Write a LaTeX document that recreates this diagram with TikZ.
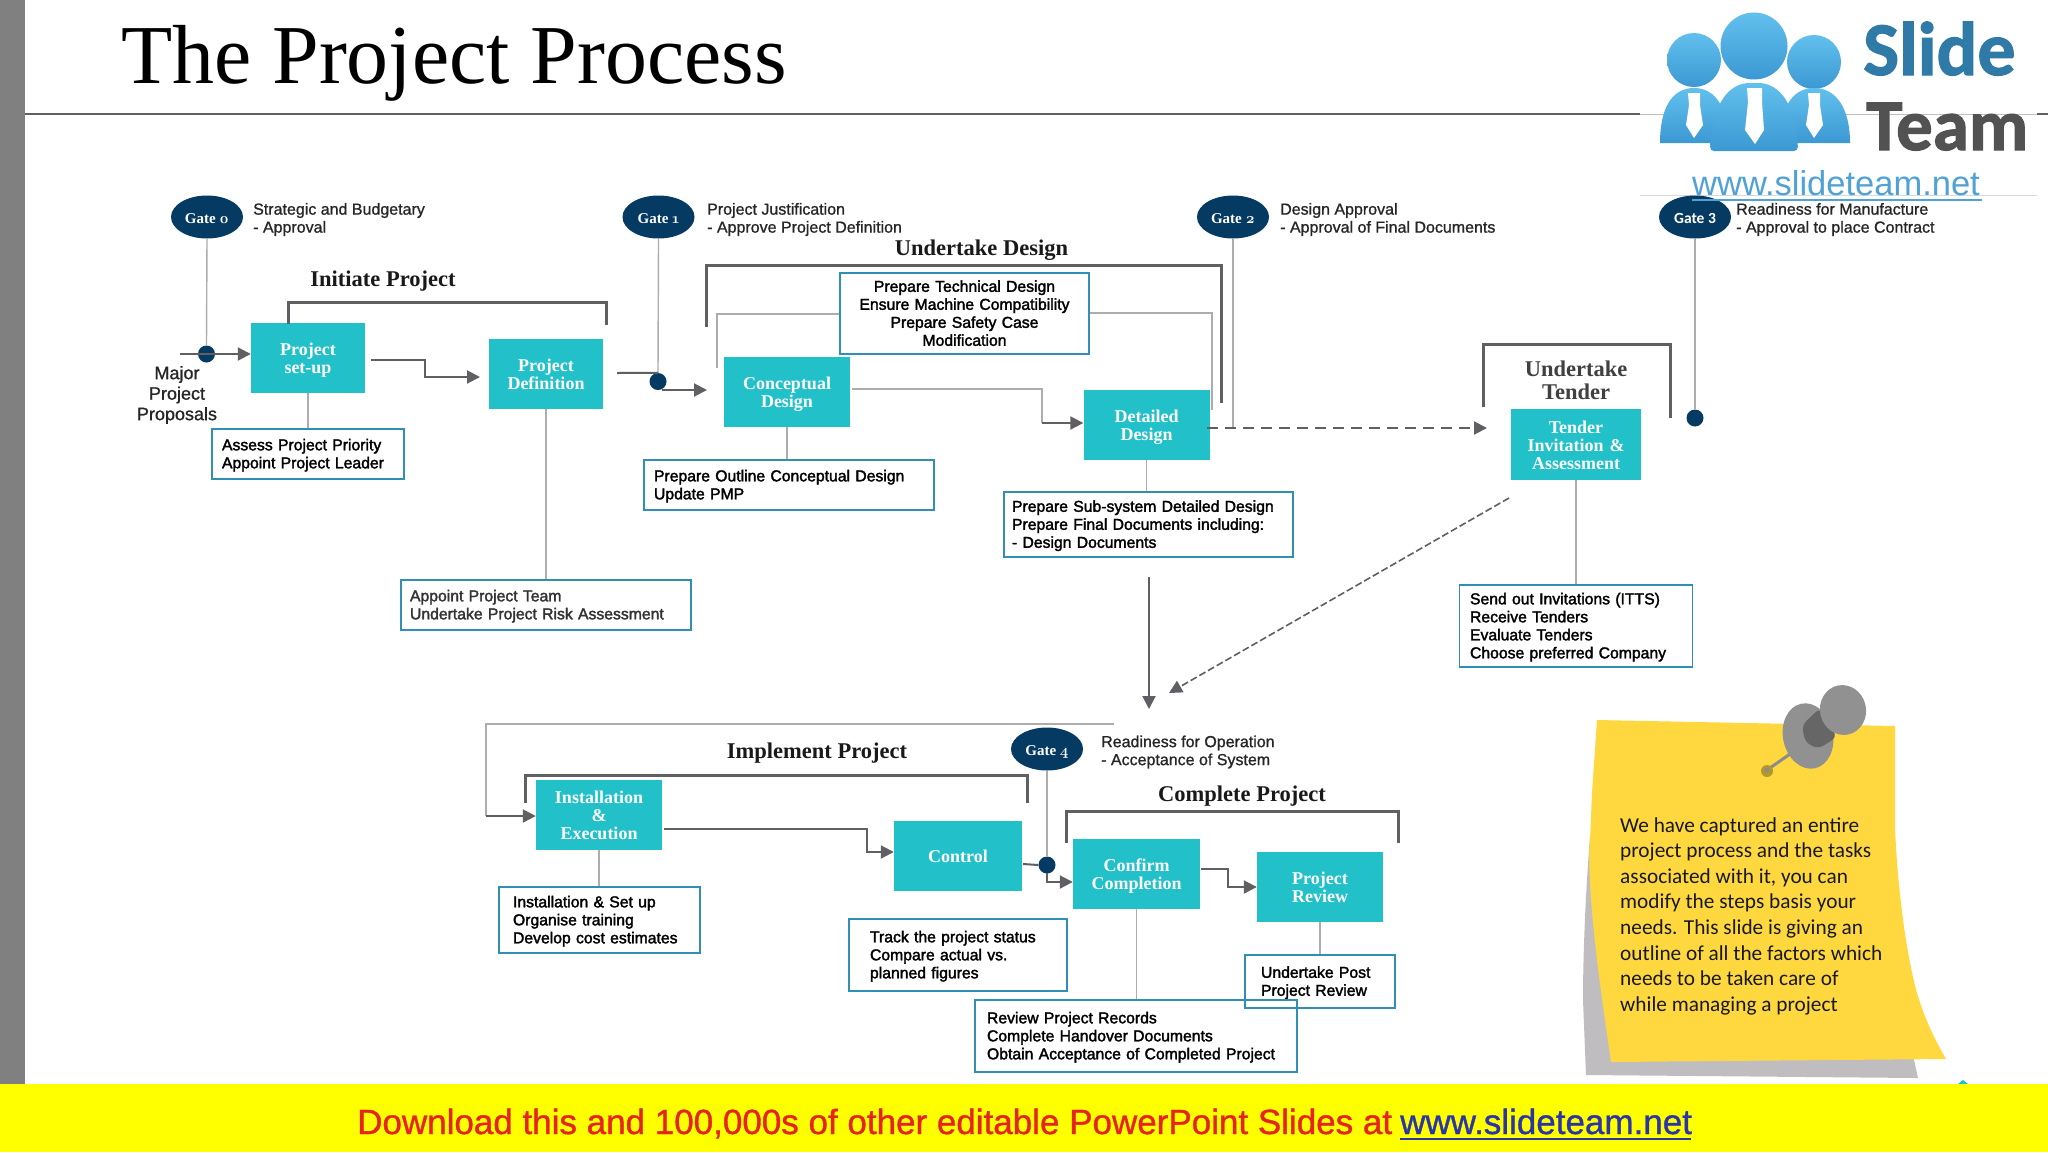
\documentclass[tikz,border=0pt]{standalone}
\usepackage{fontspec}
\usetikzlibrary{arrows.meta,shapes.geometric,calc}
\setmainfont{Liberation Serif}
\newfontfamily\sansf{Liberation Sans}[FakeBold=1.0]
\newfontfamily\taskf{Liberation Sans}[FakeBold=2.0]
\newfontfamily\noteF{Carlito}
\newfontfamily\logof{Carlito}[BoldFeatures={FakeBold=1.5}]
\newfontfamily\oldnum{Latin Modern Roman}[Numbers=OldStyle]
\definecolor{teal}{HTML}{22C1C9}
\definecolor{navy}{HTML}{053A62}
\definecolor{wire}{HTML}{5F5F64}
\definecolor{thin}{HTML}{ADADB0}
\definecolor{edge}{HTML}{2F8FB5}
\definecolor{note}{HTML}{FFD840}
\definecolor{noteshadow}{HTML}{C0BDC1}
\definecolor{logoA}{HTML}{62C0EE}
\definecolor{logoB}{HTML}{3C98D2}
\definecolor{band}{HTML}{FFFF00}
\definecolor{footred}{HTML}{E5231F}
\definecolor{footblue}{HTML}{2A35A8}
\tikzset{
  proc/.style={fill=teal,text=white,minimum width=126pt,minimum height=70pt,inner sep=0pt,text width=#1,align=center,
    execute at begin node={\rule{0pt}{17pt}},execute at end node={\rule[-4pt]{0pt}{4pt}},
    font=\fontsize{18}{18}\selectfont\bfseries},
  proc/.default=112pt,
  gate/.style={ellipse,fill=navy,text=white,minimum width=72pt,minimum height=43pt,inner sep=0pt,
    text height=13pt,text depth=0pt,font=\fontsize{15}{18}\selectfont\bfseries},
  dot/.style={circle,fill=navy,minimum size=17pt,inner sep=0pt},
  task/.style={draw=edge,line width=1.7pt,align=left,inner ysep=0pt,text=black,
    execute at begin node={\rule{0pt}{14.6pt}},execute at end node={\rule[-4pt]{0pt}{4pt}},
    font=\fontsize{15.75}{18}\selectfont\taskf},
  capt/.style={anchor=west,align=left,inner sep=0pt,text=black!85,font=\fontsize{16}{18}\selectfont\sansf},
  phase/.style={inner sep=0pt,align=center,text=black!90,font=\fontsize{22.5}{23}\selectfont\bfseries},
  flow/.style={draw=wire,line width=2pt,-{Triangle[length=13pt,width=13pt]}},
  plain/.style={draw=wire,line width=2pt},
  leader/.style={draw=thin,line width=1.4pt},
  bracket/.style={draw=wire,line width=3pt}
}
\begin{document}
\begin{tikzpicture}[x=1pt,y=-1pt]
\useasboundingbox (0,0) rectangle (2048,1152);
\fill[white] (0,0) rectangle (2048,1152);
% slide frame
\fill[black!50] (0,0) rectangle (25,1084);
\draw[wire,line width=1.7pt] (25,114) -- (1640,114);
\draw[wire,line width=1.7pt] (2037,114) -- (2048,114);
\node[anchor=base west,inner sep=0pt,font=\fontsize{83.8}{84}\selectfont] (title) at (121,83) {The Project Process};

% logo
\fill[white] (1640,0) rectangle (2037,195);
\draw[black!25,line width=0.8pt] (1640,114) -- (2037,114);
\draw[black!15,line width=1pt] (1640,195) -- (2037,195);
\shade[top color=logoA,bottom color=logoB] (1694,60) circle (27);
\shade[top color=logoA,bottom color=logoB] (1814,62) circle (27);
\shade[top color=logoA,bottom color=logoB] (1660,143) .. controls (1660,108) and (1672,88) .. (1694,88) .. controls (1716,88) and (1728,108) .. (1728,143) -- cycle;
\shade[top color=logoA,bottom color=logoB] (1780,143) .. controls (1780,108) and (1792,88) .. (1814,88) .. controls (1836,88) and (1850,108) .. (1850,143) -- cycle;
\shade[top color=logoA,bottom color=logoB] (1754,46) circle (33.5);
\shade[top color=logoA,bottom color=logoB,rounded corners=4pt] (1710,151) .. controls (1712,105) and (1728,83) .. (1754,83) .. controls (1780,83) and (1796,105) .. (1798,151) -- cycle;
\fill[white] (1688,93) -- (1700,93) -- (1700,105) -- (1703,125) -- (1694,138) -- (1686,125) -- (1689,105) -- cycle;
\fill[white] (1747,88) -- (1762,88) -- (1762,102) -- (1764,130) -- (1755,144) -- (1745,130) -- (1748,102) -- cycle;
\fill[white] (1808,93) -- (1820,93) -- (1820,105) -- (1823,125) -- (1814,138) -- (1806,125) -- (1809,105) -- cycle;
\node[anchor=base west,inner sep=0pt,text=logoB!80!black,font=\fontsize{76}{76}\selectfont\logof\bfseries] (logoslide) at (1863,75) {Slide};
\node[anchor=base west,inner sep=0pt,text=black!68,font=\fontsize{73}{73}\selectfont\logof\bfseries] (logoteam) at (1866,150) {Team};
\node[anchor=base west,inner sep=0pt,text=logoB!90,font=\fontsize{34.5}{35}\selectfont\fontspec{Liberation Sans}] (logourl) at (1692,195) {www.slideteam.net};

% gates
\node[gate] (gate0) at (207,217) {Gate {\oldnum 0}};
\node[gate] (gate1) at (658.5,217) {Gate {\oldnum 1}};
\node[gate] (gate2) at (1233,217) {Gate {\oldnum 2}};
\node[gate,font=\fontsize{15.5}{18}\selectfont\noteF\bfseries] (gate3) at (1695,217) {Gate 3};
\node[gate] (gate4) at (1047,749) {Gate {\oldnum 4}};
\draw[logoB!90,line width=2pt] (1692,200) -- (1982,200);
\node[capt] (cap0) at (253,219.5) {Strategic and Budgetary\\- Approval};
\node[capt] (cap1) at (707,219.5) {Project Justification\\- Approve Project Definition};
\node[capt] (cap2) at (1280,219.5) {Design Approval\\- Approval of Final Documents};
\node[capt] (cap3) at (1736,219.5) {Readiness for Manufacture\\- Approval to place Contract};
\node[capt] (cap4) at (1101,752) {Readiness for Operation\\- Acceptance of System};

% dots
\node[dot] (dot0) at (206.5,354) {};
\node[dot] (dot1) at (658,381.5) {};
\node[dot] (dot3) at (1695,418) {};
\node[dot] (dot4) at (1047,865) {};

% process boxes
\node[proc,minimum width=114pt] (setup) at (308,358) {Project\\set-up};
\node[proc,minimum width=114pt] (definition) at (546,374) {Project\\Definition};
\node[proc] (concept) at (787,392) {Conceptual\\Design};
\node[proc] (detail) at (1146.5,425) {Detailed\\Design};
\node[proc=126pt,minimum width=130pt,minimum height=71pt] (tender) at (1576,444.5) {Tender\\Invitation \&\\Assessment};
\node[proc] (install) at (599,815) {Installation\\\&\\Execution};
\node[proc,minimum width=128pt] (control) at (958,856) {Control};
\node[proc,minimum width=127pt] (confirm) at (1136.5,874) {Confirm\\Completion};
\node[proc,minimum width=126pt] (review) at (1320,887) {Project\\Review};

% task boxes
\node[task,fill=white,text width=172pt,inner xsep=10pt,minimum height=50pt] (assess) at (308,454) {Assess Project Priority\\Appoint Project Leader};
\node[task,fill=white,text width=272pt,inner xsep=9pt,minimum height=50pt,text=black!80] (team) at (546,605) {Appoint Project Team\\Undertake Project Risk Assessment};
\node[task,fill=white,text width=249pt,minimum height=81pt,inner xsep=0pt,align=center] (techn) at (964.5,313.5) {Prepare Technical Design\\Ensure Machine Compatibility\\Prepare Safety Case\\Modification};
\node[task,fill=white,text width=270pt,inner xsep=10pt,minimum height=50pt] (outline) at (789,485) {Prepare Outline Conceptual Design\\Update PMP};
\node[task,fill=white,text width=273pt,inner xsep=8pt,minimum height=65pt] (subsys) at (1148.5,524.5) {Prepare Sub-system Detailed Design\\Prepare Final Documents including:\\- Design Documents};
\node[task,fill=white,text width=212pt,inner xsep=10.5pt,minimum height=82pt] (itts) at (1576,626) {Send out Invitations (ITTS)\\Receive Tenders\\Evaluate Tenders\\Choose preferred Company};
\node[task,fill=white,text width=173pt,inner xsep=14pt,minimum height=66pt] (setupt) at (599.5,920) {Installation \& Set up\\Organise training\\Develop cost estimates};
\node[task,fill=white,text width=176pt,inner xsep=21pt,minimum height=72pt] (track) at (958,955) {Track the project status\\Compare actual vs.\\planned figures};
\node[task,text width=118pt,inner xsep=16pt,minimum height=53pt] (post) at (1320,981.5) {Undertake Post\\Project Review};
\node[task,text width=298pt,inner xsep=12pt,minimum height=72pt] (records) at (1136,1036) {Review Project Records\\Complete Handover Documents\\Obtain Acceptance of Completed Project};

% side labels
\node[inner sep=0pt,align=center,text=black!85,font=\fontsize{18}{20.5}\selectfont\sansf] (major) at (177,395) {Major\\Project\\Proposals};
\node[phase] (initiate) at (383,281) {Initiate Project};
\node[phase] (undesign) at (981.5,250) {Undertake Design};
\node[phase,text=black!75] (untender) at (1576,380) {Undertake\\Tender};
\node[phase] (implement) at (817,753.5) {Implement Project};
\node[phase] (complete) at (1242,796.5) {Complete Project};

% phase brackets
\draw[bracket] (288,324) -- (288,302) -- (606,302) -- (606,325);
\draw[bracket] (706,327) -- (706,265) -- (1221,265) -- (1221,403);
\draw[bracket] (1483,407) -- (1483,344) -- (1670,344) -- (1670,418);
\draw[bracket] (525,803) -- (525,775) -- (1027,775) -- (1027,803);
\draw[bracket] (1066.5,843) -- (1066.5,811) -- (1398,811) -- (1398,843);

% gate leaders
\coordinate (e1) at (1207,428);
\coordinate (e2) at (1487,428);
\draw[leader] (gate0.south) -- (dot0.north);
\draw[leader] (gate1.south) -- (dot1.north);
\draw[leader] (gate2.south) -- (gate2.south |- e1);
\draw[leader] (gate3.south) -- (dot3.north);
\draw[leader] (gate4.south) -- (dot4.north);

% leaders from boxes to tasks
\draw[leader] (setup.south) -- (setup.south |- assess.north);
\draw[leader] (definition.south) -- (definition.south |- team.north);
\draw[leader] (concept.south) -- (concept.south |- outline.north);
\draw[leader] (detail.south) -- (detail.south |- subsys.north);
\draw[leader] (tender.south) -- (tender.south |- itts.north);
\draw[leader] (install.south) -- (install.south |- setupt.north);
\draw[leader] (confirm.south) -- (confirm.south |- records.north);
\draw[leader] (review.south) -- (review.south |- post.north);
\coordinate (techL) at (717,368);
\coordinate (techR) at (1212,410);
\draw[leader] (techn.west |- 0,314) -- (717,314) -- (techL);
\draw[leader] (techn.east |- 0,313) -- (1212,313) -- (techR);

% connectors
\coordinate (majorS) at (180,354);
\draw[flow] (majorS) -- (setup.west |- majorS);
\coordinate (s1) at (371,360);
\coordinate (d1) at (480,377);
\draw[flow] (s1) -- (425,360) -- (425,377) -- (d1);
\coordinate (d2) at (617,373);
\draw[plain] (d2) -- (dot1.north);
\coordinate (d3) at (662,390);
\coordinate (c1) at (707,390);
\draw[flow] (d3) -- (c1);
\coordinate (c2) at (852,389);
\coordinate (c3) at (1042,423);
\draw[leader] (c2) -- (c3 |- c2) -- (c3);
\draw[flow] (c3) -- (detail.west |- c3);
\draw[flow,dash pattern=on 11pt off 7pt] (e1) -- (e2);
\coordinate (t1) at (1509,498);
\coordinate (t2) at (1169,693);
\draw[flow,line width=1.6pt,dash pattern=on 7pt off 3pt] (t1) -- (t2);
\coordinate (v1) at (1149,577);
\coordinate (v2) at (1149,709);
\draw[flow] (v1) -- (v2);
\coordinate (i1) at (1114,724);
\coordinate (i2) at (486,724);
\coordinate (i3) at (486,816);
\draw[leader] (i1) -- (i2) -- (i3);
\draw[flow] (i3) -- (install.west |- i3);
\coordinate (i4) at (664,829);
\coordinate (k1) at (867,852);
\draw[flow] (i4) -- (k1 |- i4) -- (k1) -- (control.west |- k1);
\draw[plain] (1023,864) -- (dot4.west);
\coordinate (g4) at (1047,873);
\draw[flow] (g4) -- (1047,882) -- (confirm.west |- 0,882);
\coordinate (f1) at (1201,869);
\coordinate (f2) at (1228,887);
\draw[flow] (f1) -- (f2 |- f1) -- (f2) -- (review.west |- f2);

% sticky note
\fill[noteshadow] (1590,837) .. controls (1585,900) and (1583,960) .. (1583,1000) -- (1586,1075) -- (1918,1078) -- (1913,1055) -- cycle;
\fill[note] (1597,720) -- (1895,726) -- (1895,827) .. controls (1897,880) and (1905,950) .. (1917,993) .. controls (1925,1020) and (1935,1040) .. (1946,1059) -- (1611,1062) .. controls (1605,1020) and (1600,985) .. (1597,960) .. controls (1590,900) and (1588,860) .. (1590,840) -- (1592,793) -- cycle;
\node[anchor=north west,inner sep=0pt,align=left,text=black!90,font=\fontsize{21.3}{25.6}\selectfont\noteF] (notetext) at (1620,817) {We have captured an entire\\project process and the tasks\\associated with it, you can\\modify the steps basis your\\needs. This slide is giving an\\outline of all the factors which\\needs to be taken care of\\while managing a project};
% pin
\draw[black!45,line width=3pt] (1790,754) -- (1767,770);
\fill[note!70!black] (1767,771) circle (6);
\fill[black!45] (1767,770) circle (2.5);
\fill[black!43] (1808,736) ellipse [x radius=25,y radius=33,rotate=12];
\fill[black!60,rounded corners=6pt] (1802,725) -- (1820,708) -- (1837,737) -- (1818,749) -- (1805,742) -- cycle;
\fill[black!43] (1843,710) ellipse [x radius=23,y radius=25,rotate=12];
\fill[teal] (1958,1084) -- (1963,1080) -- (1968,1084) -- cycle;

% footer band
\fill[band] (0,1084) rectangle (2048,1152);
\node[anchor=base west,inner sep=0pt,text=footred,font=\fontsize{35}{36}\selectfont\sansf] (footer) at (357,1134) {Download this and 100,000s of other editable PowerPoint Slides at};
\node[anchor=base west,inner sep=0pt,text=footblue,font=\fontsize{35}{36}\selectfont\sansf] (footurl) at (1400,1134) {www.slideteam.net};
\draw[footblue,line width=2.5pt] (1400,1139) -- (1691,1139);
\end{tikzpicture}
\end{document}
